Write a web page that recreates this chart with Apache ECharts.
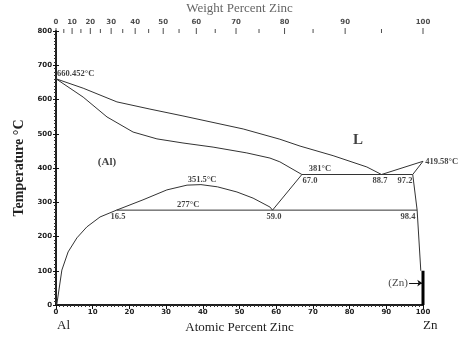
<!DOCTYPE html>
<html><head><meta charset="utf-8">
<script src="https://cdn.jsdelivr.net/npm/echarts@6/dist/echarts.min.js"></script>
<style>html,body{margin:0;padding:0;background:#fff}#c{width:474px;height:355px}</style>
</head><body><div id="c"></div>
<script>
// Phase boundaries (atomic % Zn, temperature °C)
const liquidusAl = [[0,660.45],[7.4,633],[16.6,593],[25.6,572],[34.6,552],[51.0,514],[61.0,484],[66.5,464],[75.5,436],[84.7,403],[88.7,381]];
const solidusAl = [[0,660.45],[7.4,607],[13.9,549],[21.0,505],[27.5,485],[34.6,473],[42.8,461],[52.0,444],[58.3,429],[61.0,418],[67.0,381]];
const solvusAl = [[0.2,0],[1.6,102],[3.3,155],[5.7,196],[8.4,228],[12.0,257],[14.7,269],[16.5,277]];
const miscibilityGap = [[16.5,277],[23.7,307],[30.2,336],[35.7,350],[39.5,351.5],[44,345],[49.3,330],[53.7,312],[58.3,286],[59.0,277]];
const monotectoidLine = [[59.0,277],[67.0,381]];
const eutectoidLine = [[16.5,277],[98.4,277]];
const eutecticLine = [[67.0,381],[97.2,381]];
const liquidusZn = [[88.7,381],[100,419.58]];
const solidusZn = [[97.2,381],[100,419.58]];
const solvusZn = [[97.2,381],[98.4,277],[99.4,100]];
const znPhase = [[100,0],[100,100]];
// Axis ticks
const atomicTicks = [0,10,20,30,40,50,60,70,80,90,100];
const weightTicks = [0,10,20,30,40,50,60,70,80,90,100];
const weightMinor = [5,15,25,35,45,55,65,75,85,95];
const tempTicks = [0,100,200,300,400,500,600,700,800];
// Annotations [x, T, text, align]
const labels = [
  [0.3,674,'660.452°C','left'],
  [13.9,417,'(Al)','center'],
  [82.3,482,'L','center'],
  [71.9,397,'381°C','center'],
  [69.2,362,'67.0','center'],
  [88.3,362,'88.7','center'],
  [95.1,362,'97.2','center'],
  [100.6,417,'419.58°C','left'],
  [39.8,365,'351.5°C','center'],
  [36,292,'277°C','center'],
  [16.9,257,'16.5','center'],
  [59.4,257,'59.0','center'],
  [95.9,257,'98.4','center']
];
const MZn = 65.38, MAl = 26.98;
const wt2at = w => 100*(w/MZn)/((w/MZn)+((100-w)/MAl));

const LC = '#333';
const serif = 'Liberation Serif';
function line(d, w){ return {type:'line', data:d, showSymbol:false, symbol:'none', lineStyle:{color:LC,width:w||1}, silent:true, animation:false, z:3}; }

const chart = echarts.init(document.getElementById('c'));
const series = [
  line(liquidusAl), line(solidusAl), line(solvusAl), line(miscibilityGap), line(monotectoidLine),
  line(eutectoidLine), line(eutecticLine), line(liquidusZn), line(solidusZn), line(solvusZn),
  Object.assign(line(znPhase,3),{lineStyle:{color:'#000',width:3}}),
  {type:'scatter', data: weightTicks.map(w=>[wt2at(w),800,w]), symbol:'rect', symbolSize:[1,6], itemStyle:{color:'#222'}, clip:false, silent:true, animation:false,
   label:{show:true, position:'top', distance:2, formatter:p=>p.data[2], fontSize:7, fontWeight:'bold', color:'#222', fontFamily:'DejaVu Sans'}},
  {type:'scatter', data: weightMinor.map(w=>[wt2at(w),800]), symbol:'rect', symbolSize:[1,4], itemStyle:{color:'#222'}, clip:false, silent:true, animation:false},
  {type:'scatter', data: labels.map(l=>({value:[l[0],l[1]], label:{align:l[3], formatter:l[2], fontSize: l[2]==='L'?15: (l[2].startsWith('(')?11:8.5)}})), symbolSize:0, clip:false, silent:true, animation:false,
   label:{show:true, position:'inside', color:'#111', fontFamily:serif, fontWeight:'bold'}},
  {type:'line', data:[], markLine:{silent:true, symbol:['none','arrow'], symbolSize:5, label:{show:false}, lineStyle:{color:'#111',type:'solid',width:1},
    data:[[{coord:[96.2,64]},{coord:[99.8,64]}]]}},
  {type:'scatter', data:[{value:[93.2,64]}], symbolSize:0, clip:false, silent:true, label:{show:true, position:'inside', formatter:'(Zn)', fontSize:11, color:'#111', fontFamily:serif}}
];

chart.setOption({
  animation:false,
  backgroundColor:'#fff',
  grid:{left:56, right:51, top:31, bottom:50, containLabel:false, outerBoundsMode:'none'},
  xAxis:[
    {type:'value', min:0, max:100, interval:10, position:'bottom',
     axisLine:{lineStyle:{color:'#111',width:1.5}},
     axisTick:{length:4, lineStyle:{color:'#111'}},
     minorTick:{show:true, splitNumber:10, length:2, lineStyle:{color:'#333'}},
     axisLabel:{fontSize:7, fontWeight:'bold', color:'#222', margin:4, fontFamily:'DejaVu Sans'},
     splitLine:{show:false},
     name:'Atomic Percent Zinc', nameLocation:'middle', nameGap:15,
     nameTextStyle:{fontFamily:serif, fontSize:13, color:'#222'}},
    {type:'value', min:0, max:100, position:'top', axisLine:{lineStyle:{color:'#111',width:1.5}},
     axisTick:{show:false}, axisLabel:{show:false}, splitLine:{show:false},
     name:'Weight Percent Zinc', nameLocation:'middle', nameGap:16,
     nameTextStyle:{fontFamily:serif, fontSize:13, color:'#666'}}
  ],
  yAxis:[
    {type:'value', min:0, max:800, interval:100, position:'left',
     axisLine:{show:true, lineStyle:{color:'#111',width:1.5}},
     axisTick:{show:true, length:3, lineStyle:{color:'#111'}},
     minorTick:{show:true, splitNumber:10, length:2, lineStyle:{color:'#333'}},
     axisLabel:{fontSize:7, fontWeight:'bold', color:'#222', margin:4, fontFamily:'DejaVu Sans'},
     splitLine:{show:false},
     name:'Temperature °C', nameLocation:'middle', nameGap:25,
     nameTextStyle:{fontFamily:serif, fontSize:14, color:'#222', fontWeight:'bold'}},
    {type:'value', min:0, max:800, interval:100, position:'right',
     axisLine:{show:true, lineStyle:{color:'#111',width:1.5}},
     axisTick:{show:true, length:3, lineStyle:{color:'#111'}},
     axisLabel:{show:false}, splitLine:{show:false}}
  ],
  graphic:[
    {type:'text', left:57, top:319, style:{text:'Al', font:'13px "Liberation Serif"', fill:'#222'}},
    {type:'text', left:423, top:319, style:{text:'Zn', font:'13px "Liberation Serif"', fill:'#222'}}
  ],
  series: series
});
</script></body></html>
